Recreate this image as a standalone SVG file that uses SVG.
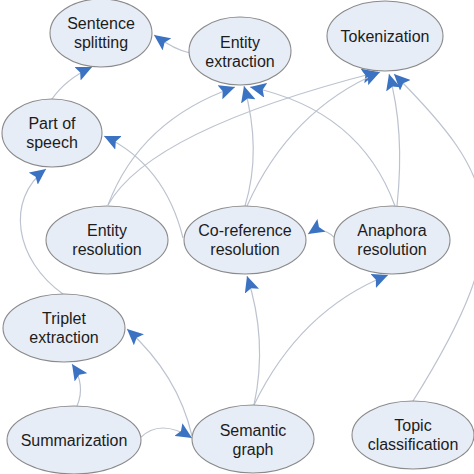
<svg xmlns="http://www.w3.org/2000/svg" width="474" height="474" viewBox="0 0 474 474">
<style>
.n ellipse{fill:#e7edf7;stroke:#8a8a8a;stroke-width:1.1}
.n text{font-family:"Liberation Sans",Arial,sans-serif;font-size:16px;fill:#1c1c1c;text-anchor:middle}
.e path{fill:none;stroke:#bcc3cf;stroke-width:1.2;marker-end:url(#ah)}
</style>
<defs>
<marker id="ah" markerUnits="userSpaceOnUse" markerWidth="17" markerHeight="15" refX="16" refY="7.5" orient="auto">
<path d="M0,0 L16,7.5 L0,15 L3,7.5 z" fill="#3b72c2"/>
</marker>
</defs>
<rect width="474" height="474" fill="#ffffff"/>
<g id="connectors" class="e">
<path d="M190,53 Q175,50 154,35"/>
<path d="M52,99 Q66,79 92,67"/>
<path d="M63,294 C15,260 5,200 46,169"/>
<path d="M183,238 Q165,165 104,136"/>
<path d="M108,205 Q140,120 235,87"/>
<path d="M108,205 Q150,130 378,72"/>
<path d="M245,206 Q262,150 244,86"/>
<path d="M247,206 Q290,110 380,72"/>
<path d="M395,206 Q360,110 250,87"/>
<path d="M397,206 Q405,130 389,74"/>
<path d="M413,401 C520,230 500,180 394,74"/>
<path d="M335,238 Q322,225 308,234"/>
<path d="M254,405 Q268,340 247,276"/>
<path d="M254,405 Q300,310 388,275"/>
<path d="M192,436 Q178,375 127,329"/>
<path d="M77,406 Q86,385 72,364"/>
<path d="M140,438 Q160,418 192,438"/>
</g>
<g id="sentence-splitting" class="n"><ellipse cx="101" cy="33" rx="51" ry="34"/><text x="101" y="29">Sentence</text><text x="101" y="48">splitting</text></g>
<g id="entity-extraction" class="n"><ellipse cx="240" cy="51" rx="51" ry="34"/><text x="240" y="48">Entity</text><text x="240" y="67">extraction</text></g>
<g id="tokenization" class="n"><ellipse cx="385" cy="36" rx="58" ry="35"/><text x="385" y="42">Tokenization</text></g>
<g id="part-of-speech" class="n"><ellipse cx="52" cy="133" rx="50" ry="34"/><text x="52" y="129">Part of</text><text x="52" y="148">speech</text></g>
<g id="entity-resolution" class="n"><ellipse cx="107" cy="240" rx="61" ry="34"/><text x="107" y="236">Entity</text><text x="107" y="255">resolution</text></g>
<g id="co-reference-resolution" class="n"><ellipse cx="245" cy="240" rx="61" ry="34"/><text x="245" y="236">Co-reference</text><text x="245" y="255">resolution</text></g>
<g id="anaphora-resolution" class="n"><ellipse cx="392" cy="240" rx="58" ry="34"/><text x="392" y="236">Anaphora</text><text x="392" y="255">resolution</text></g>
<g id="triplet-extraction" class="n"><ellipse cx="64" cy="328" rx="61" ry="34"/><text x="64" y="324">Triplet</text><text x="64" y="343">extraction</text></g>
<g id="summarization" class="n"><ellipse cx="74" cy="440" rx="67" ry="34"/><text x="74" y="446">Summarization</text></g>
<g id="semantic-graph" class="n"><ellipse cx="253" cy="439" rx="61" ry="34"/><text x="253" y="436">Semantic</text><text x="253" y="455">graph</text></g>
<g id="topic-classification" class="n"><ellipse cx="413" cy="435" rx="61" ry="34"/><text x="413" y="431">Topic</text><text x="413" y="450">classification</text></g>
</svg>
